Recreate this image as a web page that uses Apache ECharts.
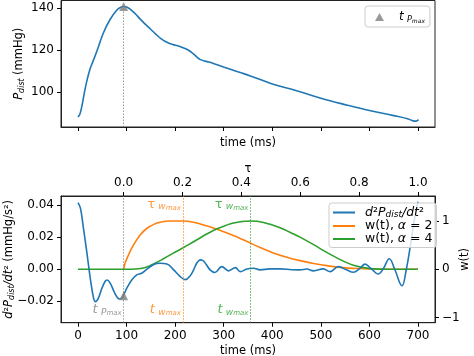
<!DOCTYPE html>
<html><head><meta charset="utf-8">
<script src="https://cdn.jsdelivr.net/npm/echarts@6/dist/echarts.min.js"></script>
<style>html,body{margin:0;padding:0;background:#fff}#c{width:474px;height:356px}</style>
</head><body><div id="c"></div><script>
// ---- data ----
const pTime = [0,4,8,12,18,24,30,39,52,66,80,88,94,100,108,118,128,139,149,160,170,183,196,205,215,225,233,240,246,252,262,280,306,334,355,400,450,500,555,600,650,680,690,696,701];
const pVals = [88.3,89.8,93.5,98.5,105.2,110.5,114.2,119.6,128.0,134.5,139.0,140.3,140.6,140.4,139.3,137.2,134.7,132.2,130.0,127.6,125.6,123.7,122.6,122.1,121.3,120.3,119.1,117.8,116.5,115.5,114.8,113.6,111.5,109.4,107.8,104.0,100.8,97.2,93.9,91.4,89.0,87.4,86.5,86.4,87.1];

const dTime = [0,5,11,18,25,32,36,42,49,56,60,66,76,85,90,94,101,111,121,131,142,156,169,183,197,210,221,231,238,245,252,259,272,282,296,310,324,334,348,361,375,395,416,440,457,471,485,505,519,536,553,567,580,591,603,618,628,641,652,667,676,684,692,700];
const dVals = [0.0415,0.038,0.026,0.011,-0.005,-0.018,-0.0202,-0.018,-0.012,-0.0075,-0.0067,-0.0085,-0.015,-0.0185,-0.018,-0.016,-0.0115,-0.0065,-0.0035,-0.0025,0.0,0.003,0.0037,0.0033,-0.0004,-0.0045,-0.0065,-0.004,-0.0004,0.004,0.0058,0.005,-0.0004,-0.002,0.0016,-0.001,0.001,-0.0015,0.0002,0.0006,-0.0004,0.0002,0.0002,-0.0003,-0.0004,0.0001,-0.001,0.0002,-0.0015,0.0016,-0.0004,-0.0019,0.0005,0.0032,0.0005,-0.003,0.0,0.0065,0.0,-0.0103,0.0,0.014,0.03,0.042];

const w2Time = [94,96,99,104,114,128,142,156,169,190,216,240,265,289,320,347,375,402,430,457,485,515,545,575,600,650,700];
const w2Vals = [0,0.1,0.18,0.3,0.5,0.71,0.85,0.93,0.975,1.0,1.0,0.97,0.9,0.82,0.70,0.58,0.45,0.34,0.25,0.18,0.12,0.07,0.035,0.015,0.005,0,0];

const w4Time = [0,60,110,125,142,169,197,210,238,265,289,320,355,382,416,444,460,485,512,540,567,595,622,650,700];
const w4Vals = [0,0,0,0.01,0.05,0.18,0.34,0.41,0.57,0.73,0.85,0.96,1.0,0.97,0.86,0.73,0.65,0.51,0.35,0.2,0.085,0.025,0.003,0,0];

const timeTicks = [0,100,200,300,400,500,600,700];
const tauTicks = [0,0.2,0.4,0.6,0.8,1.0];
const pTicks = [100,120,140];
const dTicks = [-0.02,0,0.02,0.04];
const wTicks = [-1,0,1];

const tPmax = 94, pMax = 140.6, dAtPmax = -0.0165;
const tWmax2 = 216, tWmax4 = 355;

// ---- style ----
const BLUE='#1f77b4', ORANGE='#ff7f0e', GREEN='#2ca02c', GRAY='#808080';
const FONT='DejaVu Sans';
const zip = (a,b)=>a.map((x,i)=>[x,b[i]]);
const minus = s => String(s).replace('-', '\u2212');

function subRich(color, size){
  return {
    m:{fontFamily:FONT,fontSize:size,color:color,fontStyle:'italic',lineHeight:14,verticalAlign:'middle'},
    g:{fontFamily:FONT,fontSize:size,color:color,lineHeight:14,verticalAlign:'middle'},
    s:{fontFamily:FONT,fontSize:Math.round(size*0.7),color:color,fontStyle:'italic',lineHeight:8,verticalAlign:'bottom'},
    ss:{fontFamily:FONT,fontSize:Math.round(size*0.5),color:color,fontStyle:'italic',lineHeight:6,verticalAlign:'bottom'}
  };
}

const axisLbl = {fontFamily:FONT,fontSize:12,color:'#000',margin:7};
const tick = {length:4,lineStyle:{color:'#000'}};
const axLine = {show:true,onZero:false,lineStyle:{color:'#222',width:1}};
const nameStyle = {fontFamily:FONT,fontSize:11.5,color:'#000'};

const chart = echarts.init(document.getElementById('c'),null,{renderer:'canvas'});
const annot = [
  {value:[tWmax2,0.0405], label:{formatter:'{g|τ} {s|w}{ss|max}', rich:subRich(ORANGE,13)}},
  {value:[tWmax4,0.0405], label:{formatter:'{g|τ} {s|w}{ss|max}', rich:subRich(GREEN,13)}},
  {value:[tWmax2,-0.0254], label:{formatter:'{m|t} {s|w}{ss|max}', rich:subRich(ORANGE,13)}},
  {value:[tWmax4,-0.0254], label:{formatter:'{m|t} {s|w}{ss|max}', rich:subRich(GREEN,13)}},
  {value:[tPmax,-0.0254], label:{formatter:'{m|t} {s|P}{ss|max}', rich:subRich(GRAY,13)}}
];

const gridBase = {left:61,right:39,show:true,borderColor:'#222',borderWidth:1,backgroundColor:'transparent',
                  containLabel:false,outerBoundsMode:'none'};

const option = {
  animation:false,
  backgroundColor:'#fff',
  grid:[
    Object.assign({top:0.5,height:126.5},gridBase),
    Object.assign({top:196,height:126.7},gridBase)
  ],
  xAxis:[
    {gridIndex:0,type:'value',min:-35,max:735,splitLine:{show:false},axisLine:axLine,
     axisTick:{show:true,customValues:timeTicks,...tick},axisLabel:{show:false,customValues:timeTicks},
     name:'time (ms)',nameLocation:'middle',nameGap:10,nameMoveOverlap:false,nameTextStyle:nameStyle},
    {gridIndex:1,type:'value',min:-35,max:735,splitLine:{show:false},axisLine:axLine,
     axisTick:{show:true,customValues:timeTicks,...tick},axisLabel:{...axisLbl,customValues:timeTicks},
     name:'time (ms)',nameLocation:'middle',nameGap:22,nameMoveOverlap:false,nameTextStyle:nameStyle},
    {gridIndex:1,type:'value',position:'top',min:-0.2128,max:1.0578,splitLine:{show:false},axisLine:axLine,
     axisTick:{show:true,customValues:tauTicks,...tick},axisLabel:{...axisLbl,customValues:tauTicks,formatter:v=>v.toFixed(1)},
     name:'τ',nameLocation:'middle',nameGap:21,nameMoveOverlap:false,nameTextStyle:nameStyle}
  ],
  yAxis:[
    {gridIndex:0,type:'value',min:83.6,max:143.5,splitLine:{show:false},axisLine:axLine,
     axisTick:{show:true,customValues:pTicks,...tick},axisLabel:{...axisLbl,customValues:pTicks},
     name:'{m|P}{s|dist} {g|(mmHg)}',nameLocation:'middle',nameGap:35,nameRotate:90,nameMoveOverlap:false,
     nameTextStyle:{rich:subRich('#000',11.5)}},
    {gridIndex:1,type:'value',min:-0.0333,max:0.0456,splitLine:{show:false},axisLine:axLine,
     axisTick:{show:true,customValues:dTicks,...tick},axisLabel:{...axisLbl,customValues:dTicks,formatter:v=>minus(v.toFixed(2))},
     name:'{m|d}{g|²}{m|P}{s|dist}{m|/dt}{g|²} {g|(mmHg/s²)}',nameLocation:'middle',nameGap:45,nameRotate:90,nameMoveOverlap:false,
     nameTextStyle:{rich:subRich('#000',11.5)}},
    {gridIndex:1,type:'value',position:'right',min:-1.106,max:1.518,splitLine:{show:false},axisLine:axLine,
     axisTick:{show:true,customValues:wTicks,...tick},axisLabel:{...axisLbl,customValues:wTicks,formatter:v=>minus(v)},
     name:'w(t)',nameLocation:'middle',nameGap:24,nameRotate:90,nameMoveOverlap:false,nameTextStyle:nameStyle}
  ],
  legend:[
    {data:['tPmax'],left:365,top:6,orient:'vertical',icon:'triangle',itemWidth:9,itemHeight:8,
     padding:[5,5,3,10],borderColor:'#ccc',borderWidth:1,borderRadius:3,backgroundColor:'rgba(255,255,255,0.8)',
     formatter:()=>'{p|}{m|t} {s|P}{ss|max}',
     textStyle:{rich:Object.assign(subRich('#000',12),{p:{width:10}})}},
    {data:['d2','w2','w4'],left:329,top:203,orient:'vertical',icon:'rect',itemWidth:22,itemHeight:2,itemGap:0,
     padding:[3,4,2,4],borderColor:'#ccc',borderWidth:1,borderRadius:3,backgroundColor:'rgba(255,255,255,0.8)',
     formatter:n=>{
       if(n==='d2') return '{p|}{m|d}{g|²}{m|P}{s|dist}{m|/dt}{g|²}';
       if(n==='w2') return '{p|}{g|w(t), }{m|α}{g| = 2}';
       return '{p|}{g|w(t), }{m|α}{g| = 4}';
     },
     textStyle:{rich:Object.assign(subRich('#000',12.5),{p:{width:5}})}}
  ],
  series:[
    {name:'P',type:'line',xAxisIndex:0,yAxisIndex:0,data:zip(pTime,pVals),showSymbol:false,smooth:0.4,
     lineStyle:{color:BLUE,width:1.6},itemStyle:{color:BLUE}},
    {name:'tPmax',type:'scatter',xAxisIndex:0,yAxisIndex:0,data:[[tPmax,pMax]],symbol:'triangle',symbolSize:9,
     itemStyle:{color:GRAY},z:5,
     markLine:{silent:true,symbol:'none',label:{show:false},lineStyle:{color:GRAY,type:[1.5,1.5],width:0.8},
       data:[[{coord:[tPmax,83.6]},{coord:[tPmax,pMax]}]]}},
    {name:'d2',type:'line',xAxisIndex:1,yAxisIndex:1,data:zip(dTime,dVals),showSymbol:false,smooth:0.4,
     lineStyle:{color:BLUE,width:1.6},itemStyle:{color:BLUE},z:3,
     markLine:{silent:true,symbol:'none',label:{show:false},
       data:[{xAxis:tPmax,lineStyle:{color:GRAY,type:[1.5,1.5],width:0.8}},
             {xAxis:tWmax2,lineStyle:{color:ORANGE,type:[1.5,1.5],width:0.8}},
             {xAxis:tWmax4,lineStyle:{color:GREEN,type:[1.5,1.5],width:0.8}}]}},
    {name:'w2',type:'line',xAxisIndex:1,yAxisIndex:2,data:zip(w2Time,w2Vals),showSymbol:false,smooth:0.3,
     lineStyle:{color:ORANGE,width:1.6},itemStyle:{color:ORANGE},z:2},
    {name:'w4',type:'line',xAxisIndex:1,yAxisIndex:2,data:zip(w4Time,w4Vals),showSymbol:false,smooth:0.3,
     lineStyle:{color:GREEN,width:1.6},itemStyle:{color:GREEN},z:2},
    {name:'markerBottom',type:'scatter',xAxisIndex:1,yAxisIndex:1,data:[[tPmax,dAtPmax]],symbol:'triangle',symbolSize:9,
     itemStyle:{color:GRAY},z:5},
    {name:'annot',type:'scatter',xAxisIndex:1,yAxisIndex:1,symbolSize:0,silent:true,z:6,
     label:{show:true,position:'left',distance:2},data:annot}
  ]
};
chart.setOption(option);
</script></body></html>
